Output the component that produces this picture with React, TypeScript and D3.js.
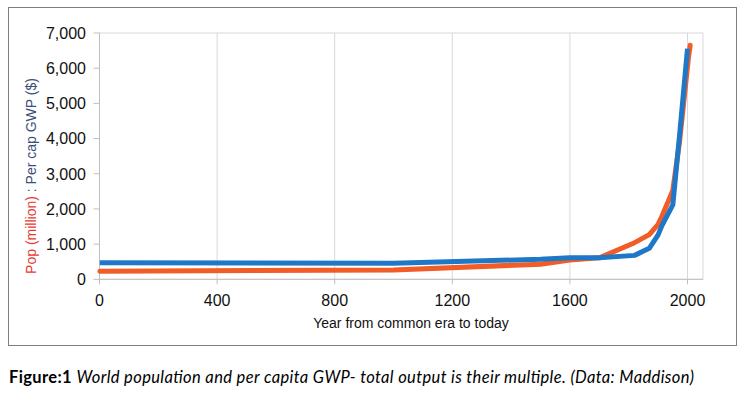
import React from "react";
import * as d3 from "d3";

const popYears = [1, 1000, 1500, 1600, 1700, 1820, 1870, 1900, 1913, 1950, 1973, 2003, 2009];
const popValues = [230, 265, 430, 550, 610, 1041, 1270, 1563, 1791, 2526, 3916, 6279, 6650];
const gdpYears = [1, 1000, 1500, 1600, 1700, 1820, 1870, 1900, 1913, 1950, 1973, 2000];
const gdpValues = [467, 455, 570, 615, 615, 680, 880, 1262, 1526, 2113, 4091, 6550];
const xTicks = [0, 400, 800, 1200, 1600, 2000];
const yTicks = [0, 1000, 2000, 3000, 4000, 5000, 6000, 7000];

const W = 747;
const H = 400;
const left = 99.5;
const right = 703;
const top = 33;
const bottom = 279.3;

export default function App() {
  const x = d3.scaleLinear().domain([0, 2000]).range([left, 687.5]);
  const y = d3.scaleLinear().domain([0, 7000]).range([bottom, top]);
  const popData = popYears.map((yr, i) => [yr, popValues[i]] as [number, number]);
  const gdpData = gdpYears.map((yr, i) => [yr, gdpValues[i]] as [number, number]);
  const line = d3
    .line<[number, number]>()
    .x((d) => x(d[0]))
    .y((d) => y(d[1]));
  const fmt = d3.format(",");
  const font = "'Liberation Sans', Arial, sans-serif";
  return (
    <svg
      width={W}
      height={H}
      style={{ position: "absolute", left: 0, top: 0, background: "#fff" }}
    >
      <rect x={8.5} y={7.5} width={728} height={338} fill="#fff" stroke="#7f7f7f" strokeWidth={1} />
      {/* plot frame */}
      <rect x={left} y={top} width={right - left} height={bottom - top} fill="none" stroke="#d9d9d9" strokeWidth={1} />
      {xTicks.slice(1).map((t) => (
        <line key={"g" + t} x1={x(t)} x2={x(t)} y1={top} y2={bottom} stroke="#d9d9d9" strokeWidth={1} />
      ))}
      {/* axes */}
      <line x1={left} x2={left} y1={top} y2={bottom} stroke="#bfbfbf" strokeWidth={1} />
      <line x1={left} x2={right} y1={bottom} y2={bottom} stroke="#bfbfbf" strokeWidth={1} />
      {yTicks.map((t) => (
        <g key={"y" + t}>
          <line x1={left - 6} x2={left} y1={y(t)} y2={y(t)} stroke="#bfbfbf" strokeWidth={1} />
          <text x={86} y={y(t)} dy="0.36em" textAnchor="end" fontFamily={font} fontSize={16} fill="#111">
            {fmt(t)}
          </text>
        </g>
      ))}
      {xTicks.map((t) => (
        <g key={"x" + t}>
          <line x1={x(t)} x2={x(t)} y1={bottom} y2={bottom + 5} stroke="#bfbfbf" strokeWidth={1} />
          <text x={x(t)} y={300.5} dy="0.36em" textAnchor="middle" fontFamily={font} fontSize={16} fill="#111">
            {t}
          </text>
        </g>
      ))}
      <text x={411} y={323} dy="0.36em" textAnchor="middle" fontFamily={font} fontSize={14} fill="#111">
        Year from common era to today
      </text>
      <text
        transform={`translate(31,176) rotate(-90)`}
        textAnchor="middle"
        dy="0.36em"
        fontFamily={font}
        fontSize={14}
      >
        <tspan fill="#e53a2f">Pop (million)</tspan>
        <tspan fill="#3b4f7a"> : Per cap GWP ($)</tspan>
      </text>
      <path d={line(popData) || ""} fill="none" stroke="#f25c27" strokeWidth={5} strokeLinejoin="round" strokeLinecap="round" />
      <path d={line(gdpData) || ""} fill="none" stroke="#1f77c8" strokeWidth={5} strokeLinejoin="round" />
      <text
        x={9}
        y={377}
        dy="0.36em"
        fontFamily="Lato, 'Open Sans', sans-serif"
        fontSize={16.5}
        fill="#000"
        textLength={685}
        lengthAdjust="spacing"
      >
        <tspan fontWeight="bold">Figure:1 </tspan>
        <tspan fontStyle="italic">World population and per capita GWP- total output is their multiple. (Data: Maddison)</tspan>
      </text>
    </svg>
  );
}
